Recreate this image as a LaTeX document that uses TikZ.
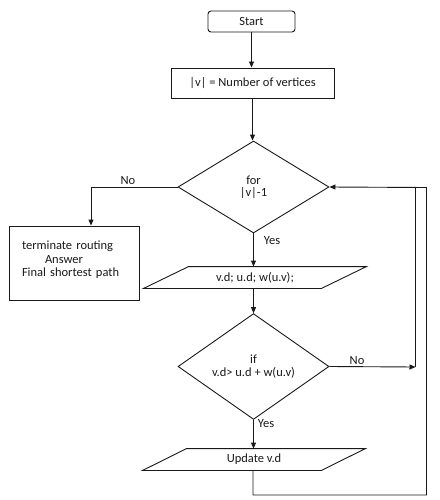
\documentclass[tikz,border=0pt]{standalone}
\usepackage{fontspec}
\setmainfont{Carlito}
\usetikzlibrary{shapes.geometric,calc,arrows.meta}
\begin{document}
\begin{tikzpicture}[x=1pt,y=-1pt,
  font=\fontsize{12.5}{13.5}\selectfont,
  line width=0.9pt, draw=black!85, color=black!90,
  box/.style={draw, rectangle, inner sep=0pt},
  rbox/.style={draw, rectangle, rounded corners=3pt, inner sep=0pt},
  dec/.style={draw, diamond, inner sep=0pt, align=center, minimum width=151pt, minimum height=92pt},
  para/.style={rectangle, inner sep=0pt, minimum width=177pt, minimum height=21pt},
  arr/.style={-{Triangle[length=6pt,width=5pt]}},
  lab/.style={inner sep=0pt}
]
\useasboundingbox (0,0) rectangle (439,500);

\node[rbox, minimum width=87pt, minimum height=21pt] (start) at (251.5,21.5) {Start};
\node[box, minimum width=163pt, minimum height=30pt] (num) at (252.5,83) {|v| = Number of vertices};
\node[dec] (d1) at (253.5,187) {for\\[-1pt]|v|-1};
\node[box, minimum width=130pt, minimum height=74pt, text width=104pt, inner xsep=13pt, align=left] (term) at (74,263)
  {terminate routing\\\hspace*{23pt}Answer\\Final shortest path\\[-5pt]\mbox{}};
\node[para] (p1) at (255,277.5) {v.d; u.d; w(u.v);};
\draw ($(p1.north west)+(22.5,0)$) -- ($(p1.north east)+(22.5,0)$) -- ($(p1.south east)+(-22.5,0)$) -- ($(p1.south west)+(-22.5,0)$) -- cycle;
\node[dec] (d2) at (253.5,366.5) {if\\[-1pt]v.d> u.d + w(u.v)};
\node[para, minimum width=178pt] (p2) at (254,459.5) {Update v.d};
\draw ($(p2.north west)+(22,0)$) -- ($(p2.north east)+(22,0)$) -- ($(p2.south east)+(-22,0)$) -- ($(p2.south west)+(-22,0)$) -- cycle;

\coordinate (j1) at (415.5,367);
\coordinate (j2) at (415.5,187.5);
\coordinate (b1) at (253,495);
\coordinate (b2) at (426.5,495);
\coordinate (b3) at (426.5,187.5);

\draw[arr] (start.south) -- (start.south |- num.north);
\draw[arr] (num.south) -- (num.south |- d1.north);
\draw[arr] (d1.west) -| ([xshift=17pt]term.north);
\node[lab] at (128,181) {No};
\draw[arr] (d1.south) -- (d1.south |- p1.north);
\node[lab] at (272,241) {Yes};
\draw[arr] (p1.south -| d2.north) -- (d2.north);
\draw[arr] (d2.east) -- (j1);
\node[lab] at (357,361) {No};
\draw (j1) -- (j2);
\draw[arr] (d2.south) -- (d2.south |- p2.north);
\node[lab] at (266,424) {Yes};
\draw[arr] (p2.south -| b1) -- (b1) -- (b2) -- (b3) -- (d1.east);
\end{tikzpicture}
\end{document}
